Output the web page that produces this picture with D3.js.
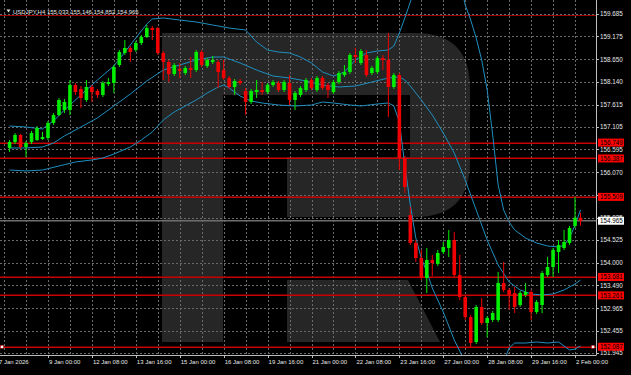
<!DOCTYPE html>
<html>
<head>
<meta charset="utf-8">
<script src="https://cdn.jsdelivr.net/npm/d3@7"></script>
<style>
  body { margin: 0; background: #000; }
  svg { display: block; }
  text { font-family: "Liberation Sans", Arial, sans-serif; }
</style>
</head>
<body>
<svg id="chart" width="631" height="375"></svg>
<script>
// USDJPY H4 bars, index 0 = 9 Jan 2026 00:00 (weekend bars skipped)
const firstBar = -7;
const open = [156.625,156.763,156.922,156.648,156.763,156.808,156.831,156.854,157.197,157.379,157.493,157.493,158.064,157.973,157.722,158.018,157.927,157.836,158.087,158.110,158.521,158.795,158.909,158.863,159.023,159.160,159.365,159.365,158.795,158.589,158.315,158.429,158.338,158.452,158.406,158.817,158.498,158.589,158.589,158.406,158.224,158.018,158.155,157.927,157.676,157.904,157.950,157.904,158.064,158.110,157.950,158.110,157.722,157.836,157.950,158.178,157.950,158.224,158.064,157.904,158.132,158.292,158.361,158.749,158.566,158.749,158.338,158.361,158.680,158.635,158.018,158.292,156.397,155.096,154.457,154.114,153.658,154.069,153.977,154.251,154.343,154.525,153.726,153.224,152.767,152.196,152.996,152.630,152.699,152.699,153.544,153.384,153.315,153.041,153.270,153.338,152.881,153.041,153.726,153.909,154.251,154.343,154.457,154.845,155.033];
const high = [156.808,156.968,156.945,156.785,157.014,157.128,156.991,157.242,157.425,157.767,157.745,158.178,158.110,158.041,158.178,158.064,157.973,158.155,158.224,158.521,158.863,159.091,158.954,159.069,159.206,159.434,159.411,159.388,158.840,158.635,158.566,158.566,158.498,158.703,158.863,158.863,158.680,158.726,158.635,158.635,158.269,158.201,158.201,157.996,157.973,158.178,158.132,158.110,158.178,158.155,158.178,158.292,157.927,158.041,158.224,158.224,158.269,158.269,158.110,158.178,158.384,158.521,158.795,158.909,158.886,158.863,158.498,158.726,158.749,159.251,158.338,158.338,156.443,155.279,154.525,154.297,154.343,154.183,154.297,154.479,154.754,154.708,154.183,153.270,152.813,153.041,153.201,152.790,152.904,153.795,154.023,153.429,153.452,153.361,153.544,153.384,153.155,153.817,154.137,154.343,154.525,154.754,154.845,155.507,155.146];
const low = [156.534,156.717,156.603,156.420,156.717,156.785,156.808,156.808,157.151,157.356,157.425,157.379,157.836,157.539,157.676,157.676,157.767,157.790,158.041,157.881,158.475,158.749,158.589,158.817,158.977,159.137,159.091,158.749,158.178,158.132,158.269,158.224,158.292,158.224,158.361,158.475,158.452,158.543,157.996,158.178,157.973,157.836,158.064,157.379,157.630,157.767,157.836,157.859,158.018,157.904,157.904,157.607,157.493,157.790,157.904,157.950,157.904,157.950,157.767,157.859,158.087,158.247,158.315,158.566,158.521,158.247,158.292,158.315,158.406,157.333,157.973,156.123,155.598,154.411,154.023,153.612,153.315,153.703,153.932,154.206,154.137,153.681,153.155,152.699,152.082,152.150,152.584,152.310,152.653,152.653,153.338,152.927,152.858,152.996,153.224,152.699,152.836,152.858,153.681,153.681,153.772,154.297,154.411,154.799,154.852];
const close = [156.763,156.922,156.648,156.740,156.968,157.082,156.877,157.197,157.379,157.722,157.676,158.064,157.904,157.767,158.018,157.904,157.836,158.110,158.132,158.475,158.817,158.909,158.817,159.023,159.160,159.365,159.320,158.795,158.589,158.315,158.521,158.384,158.452,158.406,158.817,158.521,158.635,158.635,158.361,158.224,158.018,158.155,158.110,157.676,157.927,157.950,157.904,158.064,158.132,157.950,158.132,157.722,157.881,157.996,158.178,157.996,158.224,157.996,157.950,158.132,158.338,158.361,158.749,158.703,158.840,158.292,158.452,158.680,158.635,158.018,158.292,156.397,155.735,154.457,154.114,153.658,154.069,154.000,154.228,154.365,154.525,153.726,153.224,152.767,152.173,152.996,152.630,152.744,152.858,153.544,153.384,153.270,152.996,153.315,153.338,152.881,153.110,153.772,153.909,154.297,154.411,154.479,154.799,155.033,154.965];

// Bollinger bands read at selected bars: [bar, price]
const bbUpper = [[-7,157.128],[-4,157.105],[-1,157.060],[1,157.242],[3,157.493],[6,157.836],[9,158.178],[12,158.498],[14,158.817],[16,159.137],[18,159.457],[19,159.571],[21,159.594],[24,159.548],[27,159.502],[30,159.434],[33,159.365],[36,159.320],[38,159.046],[40,158.863],[42,158.817],[44,158.795],[46,158.703],[48,158.566],[50,158.361],[52,158.269],[54,158.361],[56,158.635],[58,158.795],[60,158.840],[62,158.863],[63,158.954],[64,159.251],[65,159.594],[66,159.959],[67,160.347],[69,160.918],[71,161.146],[73,161.032],[75,160.461],[76,159.890],[77,159.548],[78,159.137],[79,158.635],[80,157.950],[81,156.922],[82,155.781],[83,155.210],[84,154.936],[85,154.754],[87,154.571],[89,154.457],[91,154.388],[93,154.365],[94,154.411],[95,154.571],[96,154.868],[97,155.210]];
const bbMiddle = [[-7,156.626],[-4,156.626],[-1,156.648],[1,156.740],[3,156.900],[6,157.105],[9,157.311],[12,157.585],[15,157.859],[18,158.155],[21,158.406],[24,158.521],[27,158.635],[30,158.703],[32,158.703],[35,158.566],[38,158.406],[41,158.269],[44,158.224],[47,158.155],[50,158.064],[53,158.018],[56,158.041],[59,158.132],[62,158.224],[64,158.247],[65,158.178],[66,158.041],[68,157.722],[70,157.379],[72,156.968],[74,156.511],[76,155.895],[78,155.210],[80,154.525],[82,153.954],[84,153.566],[86,153.384],[88,153.293],[90,153.270],[92,153.293],[94,153.384],[96,153.521],[97,153.612]];
const bbLower = [[-7,156.123],[-4,156.101],[-1,156.123],[2,156.215],[5,156.306],[8,156.352],[10,156.397],[12,156.488],[15,156.648],[17,156.808],[19,156.991],[21,157.265],[23,157.448],[25,157.585],[27,157.722],[29,157.881],[31,158.018],[32,158.064],[33,157.996],[35,157.813],[37,157.699],[39,157.653],[42,157.607],[45,157.585],[48,157.607],[50,157.676],[52,157.653],[55,157.607],[57,157.585],[60,157.630],[62,157.653],[63,157.585],[64,157.219],[65,156.237],[66,155.324],[67,154.571],[68,154.114],[69,153.795],[70,153.429],[72,152.881],[74,152.242],[76,151.740],[78,151.420],[80,151.283],[82,151.420],[83,151.740],[84,152.059],[85,152.173],[87,152.173],[89,152.196],[91,152.173],[93,152.196],[94,152.105],[95,152.014],[96,152.036],[97,152.105]];

const priceTicks = [159.685,159.175,158.650,158.140,157.615,157.105,156.595,156.070,155.545,155.035,154.525,154.000,153.490,152.965,152.455,151.945];
const hiddenTick = 155.545;   // its label sits under the 155.509 level tag
const timeTicks = [0,8,16,24,32,40,48,56,64,72,80,88,96];
const timeLabels = ["9 Jan 00:00","12 Jan 08:00","13 Jan 16:00","15 Jan 00:00","16 Jan 08:00","19 Jan 16:00","21 Jan 00:00","22 Jan 08:00","23 Jan 16:00","27 Jan 00:00","28 Jan 08:00","29 Jan 16:00","2 Feb 00:00"];
const levels = [156.749,156.387,155.509,153.681,153.261,152.087];
const topLevel = 159.66;
const lastPrice = 154.965;
const title = "USDJPY,H4  155.033 155.146 154.852 154.965";

const svg = d3.select("#chart");
const plotR = 596, plotB = 355;
const x = d3.scaleLinear().domain([-8.74, 99.82]).range([0, plotR]);
const y = d3.scaleLinear().domain([151.945, 159.685]).range([353, 14]);
const snap = v => Math.round(v) + 0.5;

svg.append("rect").attr("width", 631).attr("height", 375).attr("fill", "#000");
svg.append("defs").append("clipPath").attr("id", "plot")
  .append("rect").attr("width", plotR).attr("height", plotB);

const plot = svg.append("g").attr("clip-path", "url(#plot)");

// broker logo watermark
plot.append("path")
  .attr("fill", "#262626")
  .attr("d", "M162,33 H415 Q470,33 470,88 V162 Q470,217 415,217 H287 V157 H410 V95 H223 V342 H162 Z M287,280 H408 L440,342 H287 Z");

// grid
const grid = plot.append("g").attr("stroke", "#6a6a6a").attr("stroke-dasharray", "2,2");
grid.selectAll("line.gh").data(priceTicks).join("line").attr("class", "gh")
  .attr("x1", 0).attr("x2", plotR)
  .attr("y1", d => snap(y(d))).attr("y2", d => snap(y(d)));
grid.selectAll("line.gv").data(d3.range(-8, 100, 4)).join("line").attr("class", "gv")
  .attr("y1", 0).attr("y2", plotB)
  .attr("x1", d => snap(x(d))).attr("x2", d => snap(x(d)));

// horizontal levels, drawn as thin filled strips
const lv = plot.append("g").attr("class", "levels");
lv.append("rect").attr("x", 0).attr("width", plotR)
  .attr("y", Math.round(y(topLevel))).attr("height", 1).attr("fill", "#a00000");
levels.forEach(v => {
  lv.append("rect").attr("x", 0).attr("width", plotR)
    .attr("y", Math.round(y(v)) - 0.5).attr("height", 1.5).attr("fill", "#c80000");
});

// bands
const bandLine = d3.line().x(d => x(d[0])).y(d => y(d[1]));
[bbUpper, bbMiddle, bbLower].forEach(b => {
  plot.append("path").datum(b).attr("d", bandLine)
    .attr("fill", "none").attr("stroke", "#1f8fbf").attr("stroke-width", 1);
});

// last price line
plot.append("line").attr("x1", 0).attr("x2", plotR)
  .attr("y1", y(lastPrice)).attr("y2", y(lastPrice))
  .attr("stroke", "#6e6e6e").attr("stroke-width", 1.5);

// candles
const bars = open.map((o, k) => ({i: firstBar + k, o, h: high[k], l: low[k], c: close[k]}));
const cg = plot.append("g");
const bw = 3.6;
const col = d => d.c >= d.o ? "#00ee00" : "#f00000";
cg.selectAll("line.wick").data(bars).join("line").attr("class", "wick")
  .attr("x1", d => x(d.i)).attr("x2", d => x(d.i))
  .attr("y1", d => y(d.h)).attr("y2", d => y(d.l))
  .attr("stroke", col).attr("stroke-width", 1);
cg.selectAll("rect.body").data(bars).join("rect").attr("class", "body")
  .attr("x", d => x(d.i) - bw / 2).attr("width", bw)
  .attr("y", d => y(Math.max(d.o, d.c)))
  .attr("height", d => Math.max(1, Math.abs(y(d.o) - y(d.c))))
  .attr("fill", col);

// selected level anchors
[2, plotR - 3].forEach(px => {
  plot.append("rect").attr("x", px - 1.5).attr("y", y(152.087) - 1.5)
    .attr("width", 3).attr("height", 3).attr("fill", "#fff").attr("stroke", "#c00000").attr("stroke-width", 0.5);
});

// frame
svg.append("line").attr("x1", plotR + 0.5).attr("x2", plotR + 0.5).attr("y1", 0).attr("y2", plotB)
  .attr("stroke", "#bdbdbd");
svg.append("line").attr("x1", 0).attr("x2", plotR + 0.5).attr("y1", plotB + 0.5).attr("y2", plotB + 0.5)
  .attr("stroke", "#bdbdbd");

// price axis
const pa = svg.append("g");
pa.selectAll("line").data(priceTicks).join("line")
  .attr("x1", plotR).attr("x2", plotR + 3)
  .attr("y1", d => snap(y(d))).attr("y2", d => snap(y(d)))
  .attr("stroke", "#bdbdbd");
pa.selectAll("text").data(priceTicks.filter(d => d !== hiddenTick)).join("text")
  .attr("x", 600).attr("y", d => y(d) + 2.2)
  .attr("font-size", 6.3).attr("fill", "#e6e6e6")
  .text(d => d.toFixed(3));

// level labels
const lab = svg.append("g");
levels.forEach(v => {
  lab.append("rect").attr("x", 598).attr("y", y(v) - 4).attr("width", 26).attr("height", 8).attr("fill", "#ff0000");
  lab.append("text").attr("x", 600).attr("y", y(v) + 2.2).attr("font-size", 6.3).attr("fill", "#000").text(v.toFixed(3));
});
lab.append("rect").attr("x", 598).attr("y", y(lastPrice) - 4).attr("width", 26).attr("height", 8).attr("fill", "#fff");
lab.append("text").attr("x", 600).attr("y", y(lastPrice) + 2.2).attr("font-size", 6.3).attr("fill", "#000").text(lastPrice.toFixed(3));

// time axis
const ta = svg.append("g");
ta.selectAll("line").data(timeTicks).join("line")
  .attr("x1", d => snap(x(d))).attr("x2", d => snap(x(d)))
  .attr("y1", plotB).attr("y2", plotB + 3).attr("stroke", "#bdbdbd");
ta.selectAll("text").data(timeTicks).join("text")
  .attr("x", d => x(d) + 1).attr("y", 364)
  .attr("font-size", 6).attr("fill", "#e6e6e6")
  .text((d, k) => timeLabels[k]);
ta.append("text").attr("x", -1).attr("y", 364).attr("font-size", 6).attr("fill", "#e6e6e6").text("7 Jan 2026");

// title
svg.append("path").attr("d", "M6.5,9.5 h4 l-2,3 z").attr("fill", "#e6e6e6");
svg.append("text").attr("x", 13).attr("y", 13.5).attr("font-size", 6).attr("fill", "#e6e6e6").text(title);
</script>
</body>
</html>
